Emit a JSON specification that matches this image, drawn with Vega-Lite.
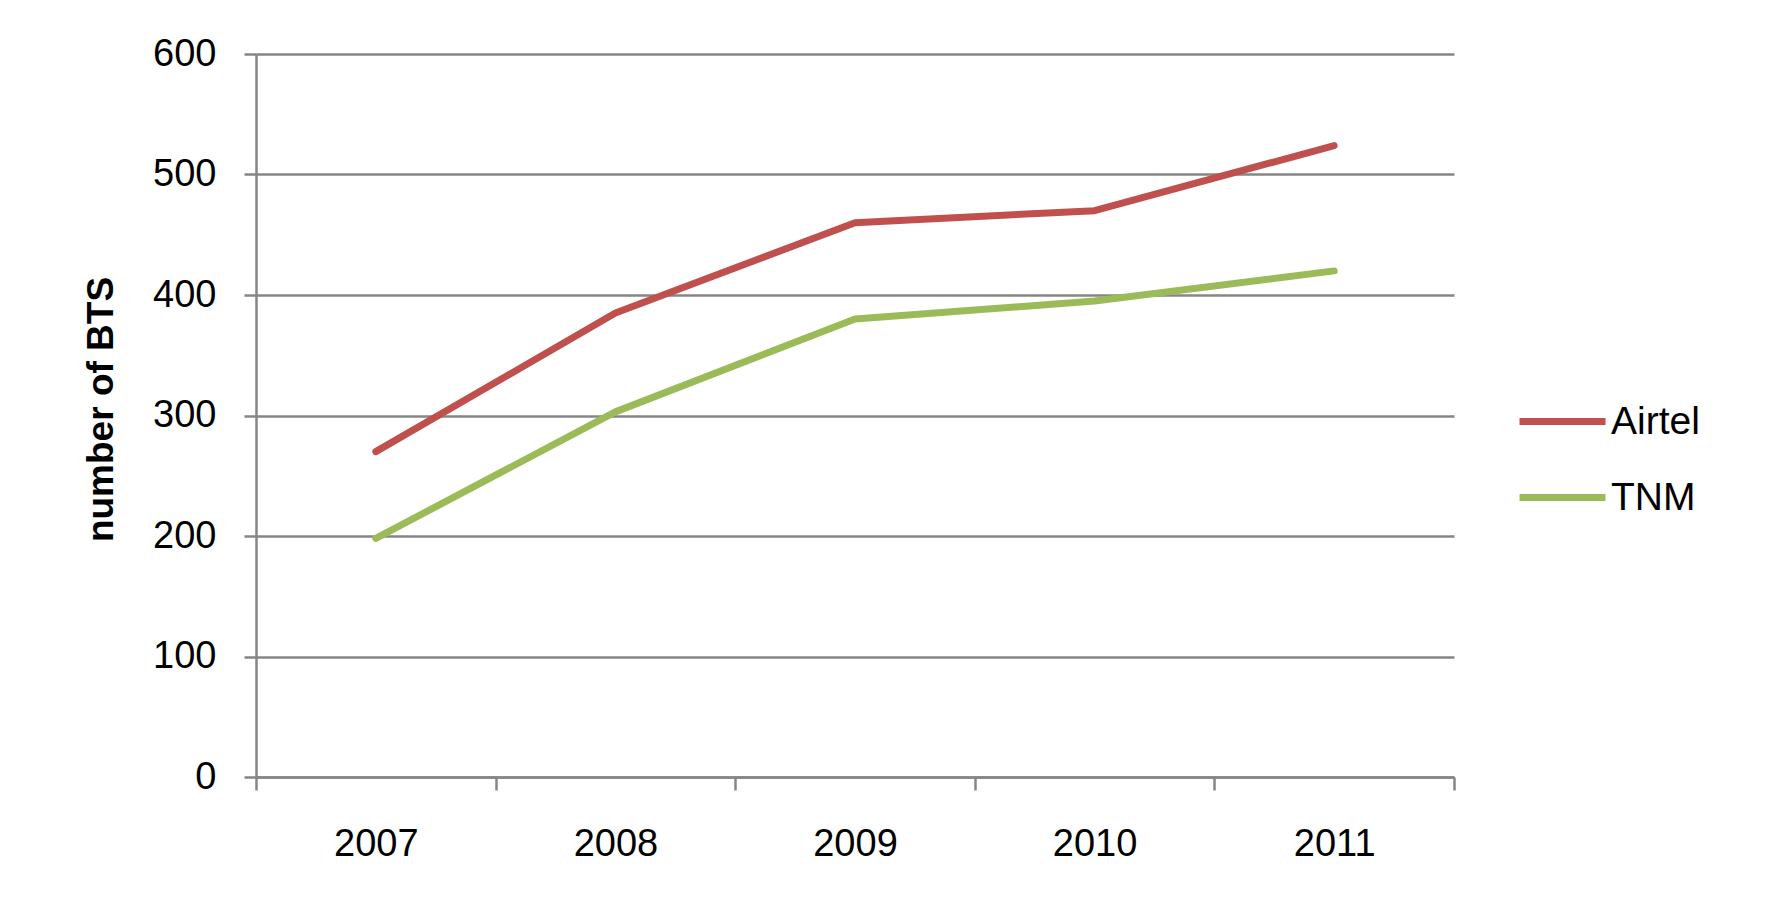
{
  "$schema": "https://vega.github.io/schema/vega-lite/v6.json",
  "width": 1198,
  "height": 723,
  "autosize": {"type": "none"},
  "padding": {"left": 256, "top": 54, "right": 318, "bottom": 136},
  "background": "white",
  "data": {
    "values": [
      {"year": "2007", "operator": "Airtel", "bts": 270},
      {"year": "2008", "operator": "Airtel", "bts": 385},
      {"year": "2009", "operator": "Airtel", "bts": 460},
      {"year": "2010", "operator": "Airtel", "bts": 470},
      {"year": "2011", "operator": "Airtel", "bts": 524},
      {"year": "2007", "operator": "TNM", "bts": 198},
      {"year": "2008", "operator": "TNM", "bts": 303},
      {"year": "2009", "operator": "TNM", "bts": 380},
      {"year": "2010", "operator": "TNM", "bts": 395},
      {"year": "2011", "operator": "TNM", "bts": 420}
    ]
  },
  "mark": {"type": "line", "strokeWidth": 7, "strokeCap": "round", "strokeJoin": "round"},
  "encoding": {
    "x": {
      "field": "year",
      "type": "nominal",
      "scale": {"type": "band", "paddingInner": 0, "paddingOuter": 0},
      "axis": {
        "title": null,
        "labelAngle": 0,
        "tickBand": "extent",
        "grid": false,
        "domainColor": "#868686",
        "domainWidth": 2.5,
        "tickColor": "#868686",
        "tickWidth": 2.5,
        "tickSize": 13,
        "labelPadding": 35,
        "labelFont": "Liberation Sans",
        "labelFontSize": 38,
        "labelColor": "black"
      }
    },
    "y": {
      "field": "bts",
      "type": "quantitative",
      "scale": {"domain": [0, 600], "nice": false},
      "axis": {
        "values": [0, 100, 200, 300, 400, 500, 600],
        "title": "number of BTS",
        "titleFont": "Liberation Sans",
        "titleFontSize": 37,
        "titleFontWeight": "bold",
        "titleColor": "black",
        "titleAngle": -90,
        "titleX": -155,
        "titleY": 355,
        "titleAlign": "center",
        "titleBaseline": "middle",
        "grid": true,
        "gridColor": "#868686",
        "gridWidth": 2.5,
        "domainColor": "#868686",
        "domainWidth": 2.5,
        "tickColor": "#868686",
        "tickWidth": 2.5,
        "tickSize": 12,
        "labelPadding": 28,
        "labelFont": "Liberation Sans",
        "labelFontSize": 38,
        "labelColor": "black"
      }
    },
    "color": {
      "field": "operator",
      "type": "nominal",
      "scale": {"domain": ["Airtel", "TNM"], "range": ["#C0504D", "#9BBB59"]},
      "legend": {
        "title": null,
        "orient": "none",
        "legendX": 1260,
        "legendY": 321,
        "padding": 0,
        "symbolType": "stroke",
        "symbolSize": 7396,
        "symbolStrokeWidth": 7,
        "rowPadding": 9,
        "labelOffset": 2,
        "labelFont": "Liberation Sans",
        "labelFontSize": 39,
        "labelColor": "black"
      }
    }
  },
  "config": {"view": {"stroke": null}}
}
